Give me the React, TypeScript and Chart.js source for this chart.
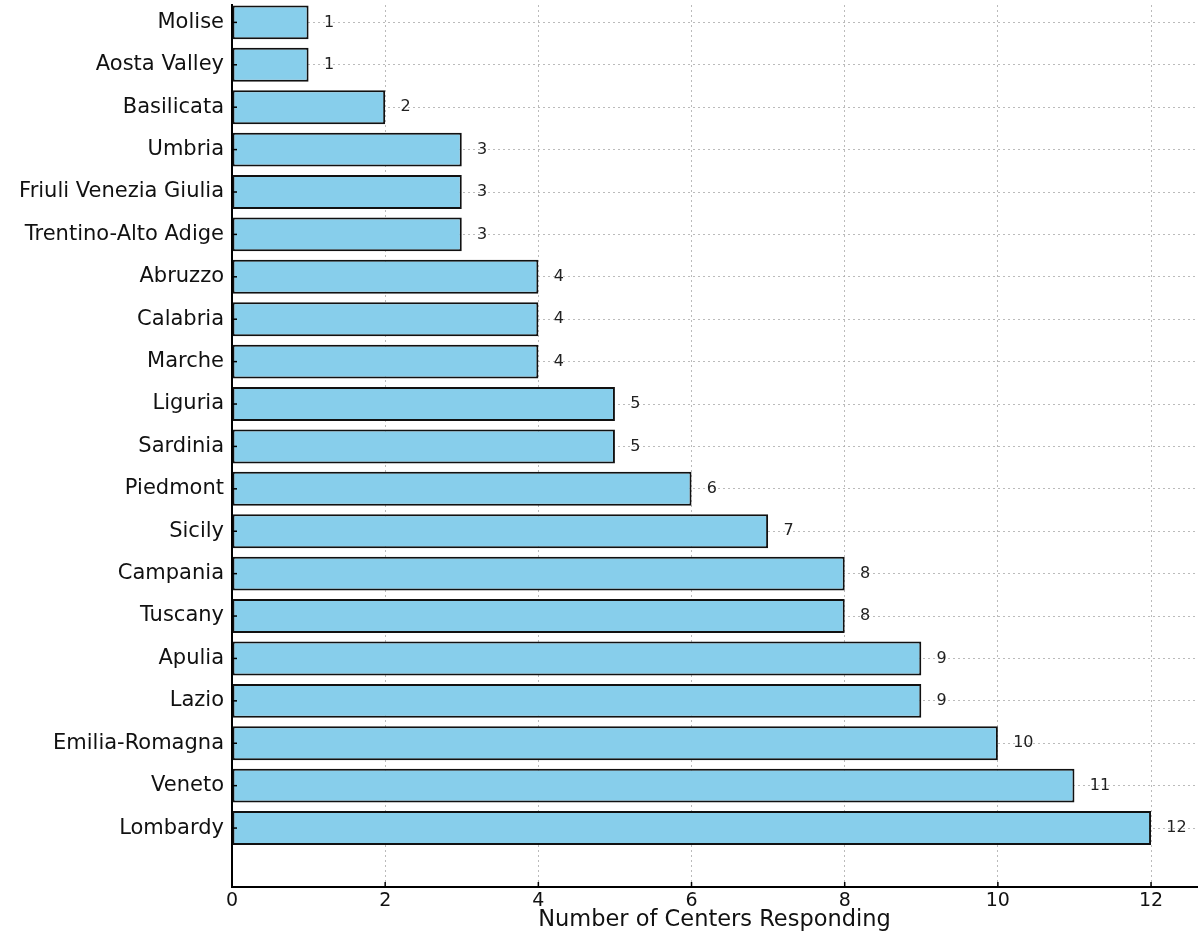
import React, { useEffect, useRef } from "react";
import { Chart, registerables } from "chart.js";

Chart.register(...registerables);

const regions = [
  "Molise",
  "Aosta Valley",
  "Basilicata",
  "Umbria",
  "Friuli Venezia Giulia",
  "Trentino-Alto Adige",
  "Abruzzo",
  "Calabria",
  "Marche",
  "Liguria",
  "Sardinia",
  "Piedmont",
  "Sicily",
  "Campania",
  "Tuscany",
  "Apulia",
  "Lazio",
  "Emilia-Romagna",
  "Veneto",
  "Lombardy",
];
const centers = [1, 1, 2, 3, 3, 3, 4, 4, 4, 5, 5, 6, 7, 8, 8, 9, 9, 10, 11, 12];
const xTickValues = [0, 2, 4, 6, 8, 10, 12];
const xTitle = "Number of Centers Responding";

const FONT = "'DejaVu Sans', sans-serif";
const n = regions.length;
const posOf = (i: number) => n - 1 - i;

const extras = {
  id: "extras",
  afterDatasetsDraw(chart: any) {
    const ctx = chart.ctx;
    const xs = chart.scales.x;
    const ys = chart.scales.y;
    ctx.save();
    ctx.strokeStyle = "#000";
    ctx.lineWidth = 1.5;
    xTickValues.forEach((t) => {
      const x = xs.getPixelForValue(t);
      ctx.beginPath();
      ctx.moveTo(x, ys.bottom);
      ctx.lineTo(x, ys.bottom - 5);
      ctx.stroke();
    });
    regions.forEach((_, i) => {
      const y = ys.getPixelForValue(posOf(i));
      ctx.beginPath();
      ctx.moveTo(xs.left, y);
      ctx.lineTo(xs.left + 5, y);
      ctx.stroke();
    });
    ctx.font = `16px ${FONT}`;
    ctx.fillStyle = "#222";
    ctx.textAlign = "left";
    ctx.textBaseline = "middle";
    centers.forEach((v, i) => {
      const y = ys.getPixelForValue(posOf(i));
      ctx.fillText(String(v), xs.getPixelForValue(v + 0.2), y);
    });
    ctx.restore();
  },
};

export default function App() {
  const ref = useRef<HTMLCanvasElement>(null);
  useEffect(() => {
    document.body.style.margin = "0";
    const chart = new Chart(ref.current as HTMLCanvasElement, {
      type: "bar",
      data: {
        datasets: [
          {
            data: centers.map((v, i) => ({ x: v, y: posOf(i) })),
            backgroundColor: "#87CEEB",
            borderColor: "#111",
            borderWidth: 2,
            borderSkipped: false,
            barPercentage: 0.8,
            categoryPercentage: 1,
          },
        ],
      },
      options: {
        indexAxis: "y",
        responsive: false,
        animation: false,
        layout: { padding: { top: 5, right: 3, left: 0, bottom: 0 } },
        plugins: {
          legend: { display: false },
          tooltip: { enabled: false },
        },
        scales: {
          x: {
            type: "linear",
            min: 0,
            max: 12.6,
            afterBuildTicks: (s: any) => {
              s.ticks = xTickValues.map((v) => ({ value: v }));
            },
            afterFit: (s: any) => {
              s.height = 51;
              s.paddingLeft = 0;
              s.paddingRight = 0;
            },
            grid: {
              color: "rgba(170,170,170,0.8)",
              lineWidth: 1,
              drawTicks: false,
            },
            border: { display: true, color: "#000", width: 2, dash: [2, 3] },
            ticks: {
              color: "#111",
              font: { family: FONT, size: 19 },
              padding: 3,
              autoSkip: false,
              maxRotation: 0,
            },
            title: {
              display: true,
              text: xTitle,
              color: "#111",
              font: { family: FONT, size: 22.5 },
              padding: { top: 0, bottom: 4 },
            },
          },
          y: {
            type: "linear",
            min: -1.39,
            max: 19.41,
            offset: false,
            afterBuildTicks: (s: any) => {
              s.ticks = regions.map((_, i) => ({ value: posOf(i) }));
            },
            afterFit: (s: any) => {
              s.width = 232;
              s.paddingTop = 0;
              s.paddingBottom = 0;
            },
            grid: {
              color: "rgba(170,170,170,0.8)",
              lineWidth: 1,
              drawTicks: false,
              offset: false,
            },
            border: { display: true, color: "#000", width: 2, dash: [2, 3] },
            ticks: {
              color: "#111",
              font: { family: FONT, size: 21 },
              padding: 8,
              autoSkip: false,
              callback: (v: any) => regions[n - 1 - Math.round(Number(v))],
            },
          },
        },
      },
      plugins: [extras],
    } as any);
    return () => chart.destroy();
  }, []);
  return (
    <div style={{ position: "absolute", left: 0, top: 0, width: 1200, height: 938, background: "#fff" }}>
      <canvas ref={ref} width={1200} height={938} style={{ display: "block" }} />
    </div>
  );
}
